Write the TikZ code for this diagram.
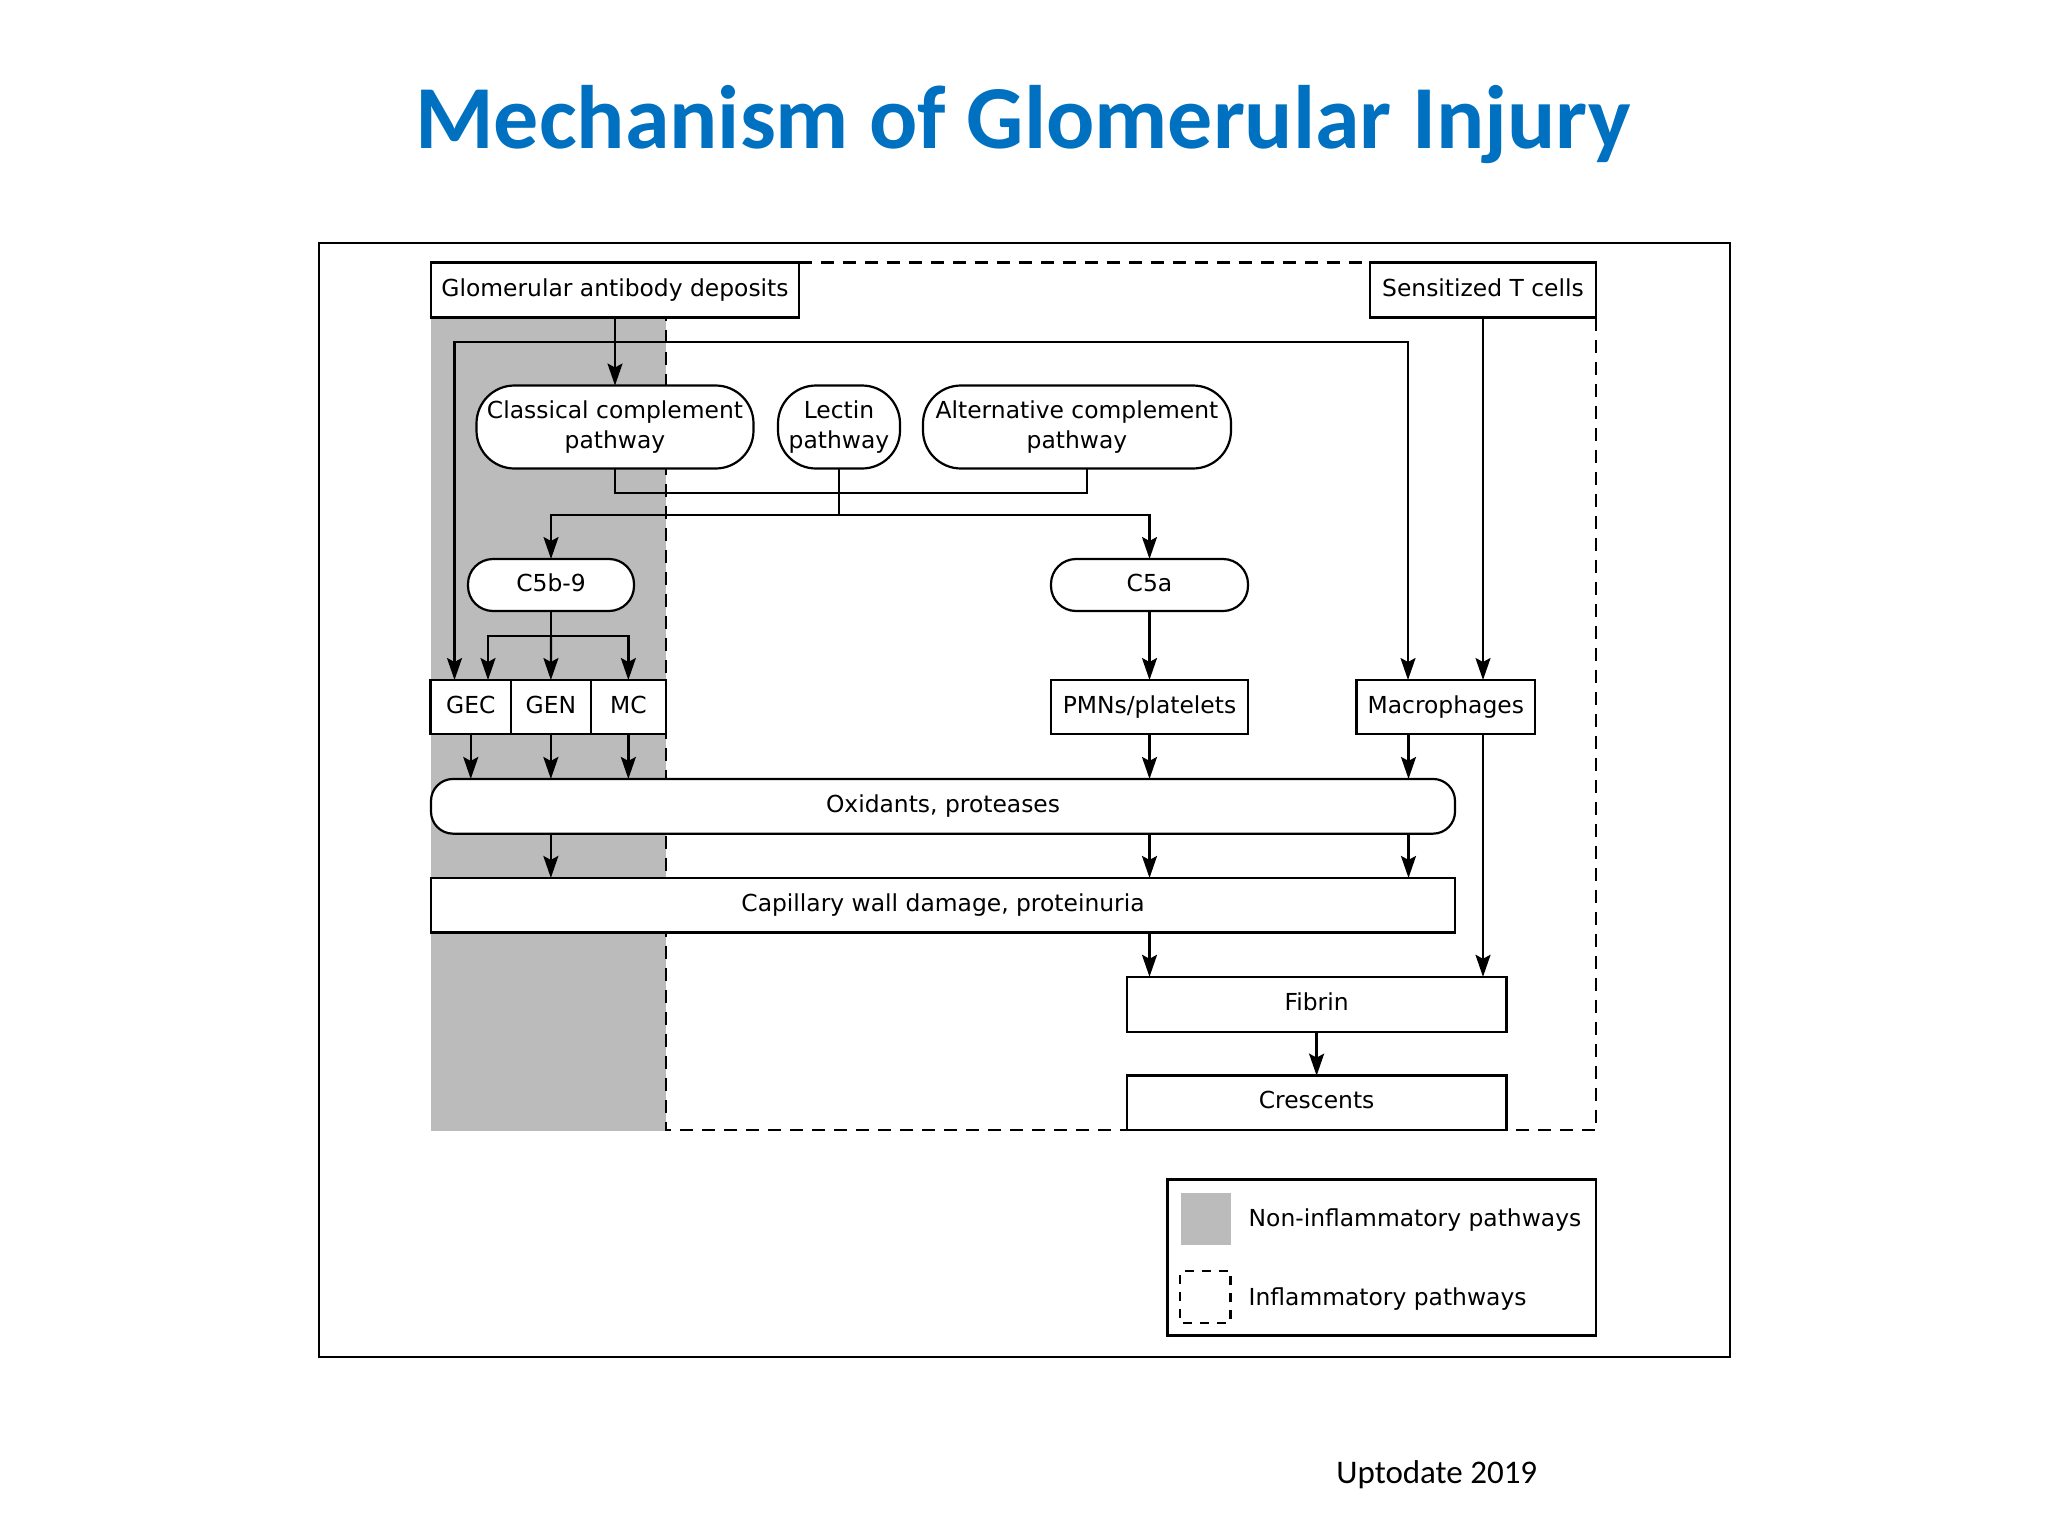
\documentclass[tikz,border=0pt]{standalone}
\usepackage{fontspec}
\setmainfont{DejaVu Sans}
\newfontfamily\titlefont{Carlito}
\usetikzlibrary{arrows.meta,calc}
\definecolor{titleblue}{HTML}{0070C0}
\definecolor{npgray}{HTML}{BBBBBB}
\begin{document}
\begin{tikzpicture}[x=1pt,y=-1pt,
  every node/.style={font=\fontsize{23.4}{30}\selectfont, inner sep=0pt, outer sep=0pt},
  box/.style={draw, line width=2.4pt, fill=white, text height=17pt, text depth=5pt},
  pill/.style={draw, line width=2.2pt, fill=white, rounded corners=#1},
  conn/.style={line width=2.3pt},
  arr/.style={conn, -{Stealth[length=22pt,width=15pt,inset=4pt]}},
  inflam/.style={line width=2.3pt, dash pattern=on 13pt off 9pt}
]
\fill[white] (0,0) rectangle (2048,1536);
\useasboundingbox (0,0) rectangle (2048,1536);

% title and source
\node[font=\titlefont\bfseries\fontsize{90}{100}\selectfont, text=titleblue, anchor=base] (title) at (1023,148.3) {Mechanism of Glomerular Injury};
\node[font=\titlefont\fontsize{33}{40}\selectfont, anchor=base west] (src) at (1336.4,1483) {Uptodate 2019};

% outer frame
\draw[line width=2pt] (318.6,243.3) rectangle (1729.5,1357);

% non-inflammatory region
\fill[npgray] (431,317.4) rectangle (666,1131);

% nodes
\node[box, minimum width=368pt, minimum height=55pt] (gad) at (615,290) {Glomerular antibody deposits};
\node[box, minimum width=226pt, minimum height=55pt] (stc) at (1483,290) {Sensitized T cells};

% inflammatory dashed boundary
\draw[inflam] (gad.north east) -- (stc.north west);
\draw[inflam] (stc.south east) -- (1596,1130) -- (666,1130) -- (666,317.4);

\node[pill=38pt, minimum width=277pt, minimum height=83pt, align=center] (ccp) at (615,427) {Classical complement\\pathway};
\node[pill=38pt, minimum width=122pt, minimum height=83pt, align=center] (lec) at (839,427) {Lectin\\pathway};
\node[pill=38pt, minimum width=308pt, minimum height=83pt, align=center] (alt) at (1077,427) {Alternative complement\\pathway};
\node[pill=25pt, minimum width=166pt, minimum height=52pt, text height=17pt, text depth=5pt] (c5b) at (551,585) {C5b-9};
\node[pill=25pt, minimum width=197pt, minimum height=52pt, text height=17pt, text depth=5pt] (c5a) at (1149.5,585) {C5a};

\node[box, minimum width=80.5pt, minimum height=54pt] (gec) at (470.75,707) {GEC};
\node[box, minimum width=79.7pt, minimum height=54pt] (gen) at (550.85,707) {GEN};
\node[box, minimum width=75.3pt, minimum height=54pt] (mc) at (628.35,707) {MC};
\node[box, minimum width=197pt, minimum height=54pt] (pmn) at (1149.5,707) {PMNs/platelets};
\node[box, minimum width=178.5pt, minimum height=54pt] (mac) at (1445.75,707) {Macrophages};

\node[pill=22pt, minimum width=1024pt, minimum height=54.7pt, text height=17pt, text depth=5pt] (oxi) at (943,806.3) {Oxidants, proteases};
\node[box, minimum width=1024pt, minimum height=54.7pt] (cap) at (943,905.3) {Capillary wall damage, proteinuria};
\node[box, minimum width=379.8pt, minimum height=55pt] (fib) at (1316.6,1004.3) {Fibrin};
\node[box, minimum width=379.8pt, minimum height=54.3pt] (cres) at (1316.6,1102.8) {Crescents};

% connectors
\coordinate (j1) at (615,342);
\draw[arr] (gad.south) -- (ccp.north);
\draw[arr] (j1) -| ([xshift=24pt]gec.north west);
\draw[arr] (j1) -| ([xshift=51.5pt]mac.north west);
\draw[arr] (stc.south) -- (stc.south |- mac.north);

\coordinate (altc) at ([xshift=10pt]alt.south);
\draw[conn] (ccp.south) -- ++(0,24.5) -| (altc);
\coordinate (j3) at (839,515);
\draw[conn] (lec.south) -- (j3);
\draw[arr] (j3) -| (c5b.north);
\draw[arr] (j3) -| (c5a.north);

\coordinate (j4) at (551,636);
\draw[conn] (c5b.south) -- (j4);
\draw[arr] (j4) -| ([xshift=57.5pt]gec.north west);
\draw[arr] (j4) -- (gen.north);
\draw[arr] (j4) -| (mc.north);
\draw[arr] (c5a.south) -- (pmn.north);

\draw[arr] (gec.south) -- (gec.south |- oxi.north);
\draw[arr] (gen.south) -- (gen.south |- oxi.north);
\draw[arr] (mc.south) -- (mc.south |- oxi.north);
\draw[arr] (pmn.south) -- (pmn.south |- oxi.north);
\coordinate (macL) at ([xshift=52pt]mac.south west);
\draw[arr] (macL) -- (macL |- oxi.north);

\draw[arr] (gen.south |- oxi.south) -- (gen.south |- cap.north);
\draw[arr] (pmn.south |- oxi.south) -- (pmn.south |- cap.north);
\draw[arr] (macL |- oxi.south) -- (macL |- cap.north);

\draw[arr] (pmn.south |- cap.south) -- (pmn.south |- fib.north);
\coordinate (macR) at (stc.south |- mac.south);
\draw[arr] (macR) -- (macR |- fib.north);
\draw[arr] (fib.south) -- (cres.north);

% legend
\draw[line width=2.4pt] (1167.6,1179.3) rectangle (1595.8,1335.3);
\fill[npgray] (1181.4,1193.3) rectangle (1230.7,1245);
\draw[line width=2.2pt, dash pattern=on 9pt off 8pt, dash phase=-4pt] (1180,1270.7) rectangle (1230.5,1322.7);
\node[anchor=base west] (lg1) at (1248.7,1226) {Non-inflammatory pathways};
\node[anchor=base west] (lg2) at (1248.7,1305) {Inflammatory pathways};
\end{tikzpicture}
\end{document}
